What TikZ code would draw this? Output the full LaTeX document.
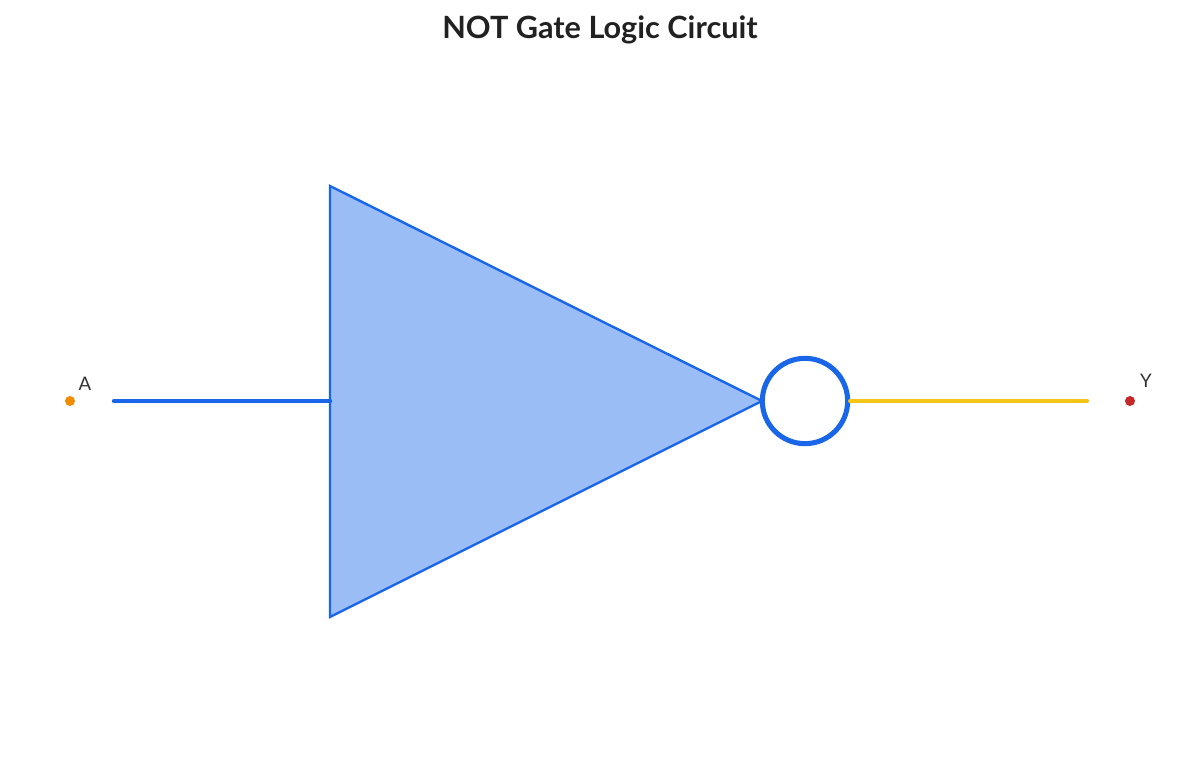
\documentclass[tikz,border=0pt]{standalone}
\usepackage{fontspec}
\setmainfont{Lato}
\begin{document}
\begin{tikzpicture}[x=0.75pt,y=-0.75pt,
  wire/.style={line width=3.3pt,line cap=round},
  dot/.style={circle,inner sep=0pt,minimum size=7.5pt},
  lbl/.style={font=\fontsize{14}{16}\selectfont,text=black!80}]
\useasboundingbox (0,0) rectangle (1200,763);
\definecolor{gblue}{HTML}{1A66E8}
\definecolor{gfill}{HTML}{9BBDF5}
\definecolor{gyel}{HTML}{F5C518}
\definecolor{gorg}{HTML}{F28C00}
\definecolor{gred}{HTML}{C62828}
\node[font=\bfseries\fontsize{23}{27}\selectfont,text=black!87] (title) at (600,30) {NOT Gate Logic Circuit};
\node[dot,fill=gorg] (a) at (70,401) {};
\node[lbl] (al) at (85,384) {A};
\node[dot,fill=gred] (y) at (1130,401) {};
\node[lbl] (yl) at (1146,381) {Y};
\coordinate (ain) at (114,401);
\coordinate (gin) at (330,401);
\coordinate (yout) at (1087,401);
\draw[fill=gfill,draw=gblue,line width=1.8pt,line join=miter] (330,186) -- (330,617) -- (762,401) -- cycle;
\node[circle,draw=gblue,line width=3.8pt,minimum size=64pt,inner sep=0pt] (bub) at (805,401) {};
\draw[wire,gblue] (ain) -- (gin);
\draw[wire,gyel] (bub.east) -- (yout);
\end{tikzpicture}
\end{document}
